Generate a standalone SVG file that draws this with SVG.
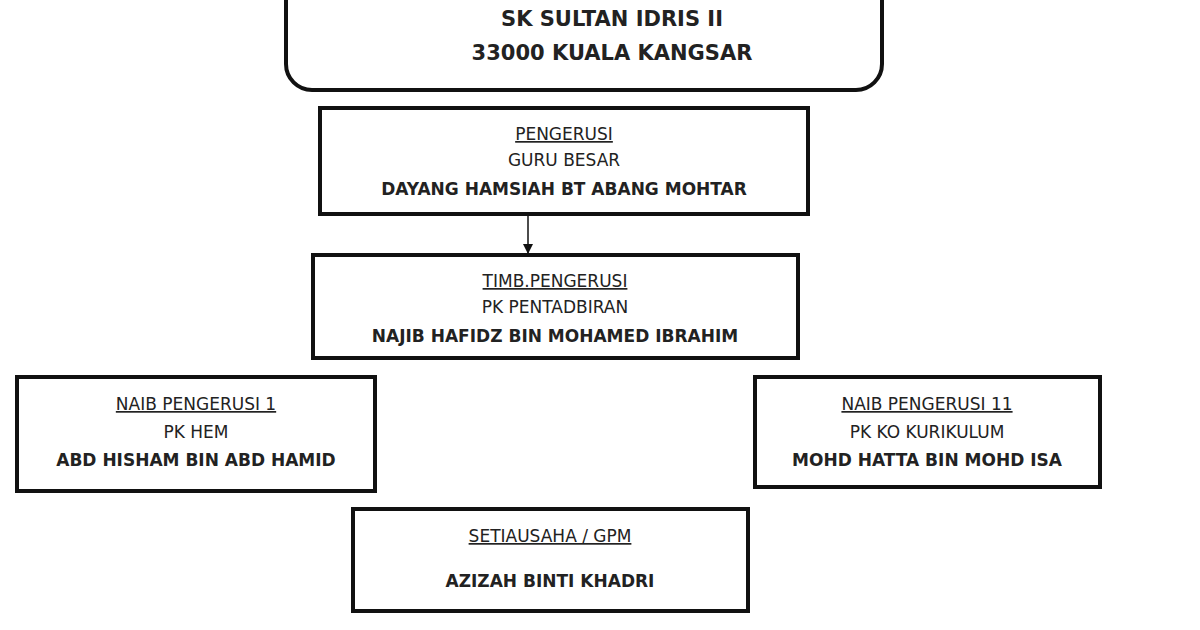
<svg xmlns="http://www.w3.org/2000/svg" width="1200" height="630" viewBox="0 0 1200 630">
<style>
.b{fill:#fff;stroke:#111;stroke-width:4}
text{font-family:"DejaVu Sans",sans-serif;text-anchor:middle;fill:#222}
.n{font-size:17px}
.u{font-size:17px;text-decoration:underline}
.h{font-size:17px;font-weight:bold}
.t{font-size:21px;font-weight:bold}
</style>
<defs><marker id="a" markerWidth="10" markerHeight="10" refX="9" refY="5" orient="auto" markerUnits="userSpaceOnUse"><path d="M0,0L10,5L0,10z" fill="#111"/></marker></defs>
<rect width="1200" height="630" fill="#fff"/>
<g id="top"><rect class="b" x="286" y="-40" width="596" height="130" rx="26"/>
<text class="t" x="612" y="26">SK SULTAN IDRIS II</text><text class="t" x="612" y="60">33000 KUALA KANGSAR</text></g>
<g id="pengerusi"><rect class="b" x="320" y="108" width="488" height="106"/>
<text class="u" x="564" y="140">PENGERUSI</text><text class="n" x="564" y="166">GURU BESAR</text><text class="h" x="564" y="195">DAYANG HAMSIAH BT ABANG MOHTAR</text></g>
<g id="timb"><rect class="b" x="313" y="255" width="485" height="103"/>
<text class="u" x="555" y="287"> TIMB.PENGERUSI</text><text class="n" x="555" y="313">PK PENTADBIRAN</text><text class="h" x="555" y="342">NAJIB HAFIDZ BIN MOHAMED IBRAHIM</text></g>
<g id="naib1"><rect class="b" x="17" y="377" width="358" height="114"/>
<text class="u" x="196" y="410">NAIB PENGERUSI 1</text><text class="n" x="196" y="438">PK HEM</text><text class="h" x="196" y="466">ABD HISHAM BIN ABD HAMID</text></g>
<g id="naib2"><rect class="b" x="755" y="377" width="345" height="110"/>
<text class="u" x="927" y="410">NAIB PENGERUSI 11</text><text class="n" x="927" y="438">PK KO KURIKULUM</text><text class="h" x="927" y="466">MOHD HATTA BIN MOHD ISA</text></g>
<g id="setia"><rect class="b" x="353" y="509" width="395" height="102"/>
<text class="u" x="550" y="542">SETIAUSAHA / GPM</text><text class="h" x="550" y="587">AZIZAH BINTI KHADRI</text></g>
<g id="connectors"><line x1="528" y1="216" x2="528" y2="253" stroke="#111" stroke-width="1.5" marker-end="url(#a)"/></g>
</svg>
